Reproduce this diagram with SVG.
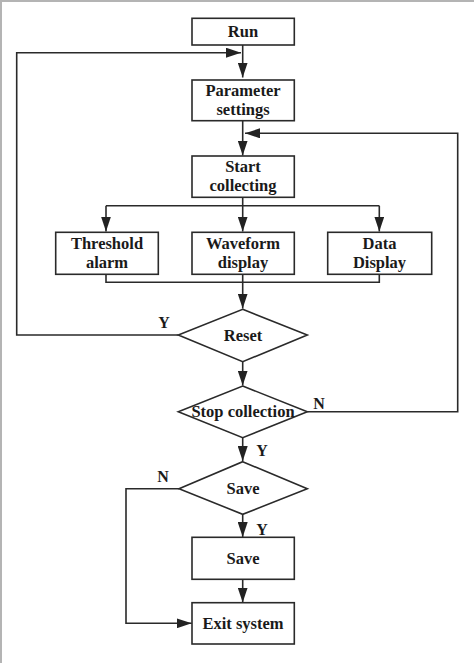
<svg xmlns="http://www.w3.org/2000/svg" width="474" height="663" viewBox="0 0 474 663">
<style>
.box{fill:#fff;stroke:#2a2a2a;stroke-width:1.6}
.ln{fill:none;stroke:#2a2a2a;stroke-width:1.6}
.t{font-family:"Liberation Serif","Times New Roman",serif;font-weight:bold;font-size:16.5px;fill:#1a1a1a;text-anchor:middle}
.lb{font-family:"Liberation Serif","Times New Roman",serif;font-weight:bold;font-size:16px;fill:#1a1a1a;text-anchor:middle}
</style>
<defs>
<marker id="ah" markerWidth="15" markerHeight="10" refX="15" refY="5" orient="auto" markerUnits="userSpaceOnUse">
<path d="M0,0 L15,5 L0,10 Z" fill="#222"/>
</marker>
</defs>
<rect x="0" y="0" width="474" height="663" fill="#fff"/>
<rect x="0" y="0" width="474" height="2" fill="#b4b4b4"/>
<rect x="0" y="0" width="2" height="663" fill="#b4b4b4"/>
<g id="connectors">
<path class="ln" d="M242.7,45 V77.5" marker-end="url(#ah)"/>
<path class="ln" d="M178.5,335 H16.7 V52.7 H241" marker-end="url(#ah)"/>
<path class="ln" d="M242.7,120.7 V155.5" marker-end="url(#ah)"/>
<path class="ln" d="M307.3,411.7 H457.7 V133.3 H245" marker-end="url(#ah)"/>
<path class="ln" d="M242.7,197.3 V231.5" marker-end="url(#ah)"/>
<path class="ln" d="M106,205.7 H379.3"/>
<path class="ln" d="M106,205.7 V231.5" marker-end="url(#ah)"/>
<path class="ln" d="M379.3,205.7 V231.5" marker-end="url(#ah)"/>
<path class="ln" d="M106,274.3 V282.3 H379.3 V274.3"/>
<path class="ln" d="M242.7,274.3 V308.5" marker-end="url(#ah)"/>
<path class="ln" d="M242.7,361.7 V385.5" marker-end="url(#ah)"/>
<path class="ln" d="M242.7,437.7 V461" marker-end="url(#ah)"/>
<path class="ln" d="M179,488.7 H126 V623.3 H191.7" marker-end="url(#ah)"/>
<path class="ln" d="M242.7,514.3 V537" marker-end="url(#ah)"/>
<path class="ln" d="M242.7,579.3 V602.5" marker-end="url(#ah)"/>
<text class="lb" x="164" y="328">Y</text>
<text class="lb" x="319" y="409">N</text>
<text class="lb" x="262" y="456">Y</text>
<text class="lb" x="163" y="482">N</text>
<text class="lb" x="262" y="535">Y</text>
</g>
<g id="run"><rect class="box" x="192" y="18.3" width="102.3" height="26.7"/><text class="t" x="243" y="37">Run</text></g>
<g id="param"><rect class="box" x="192" y="80" width="102.3" height="40.7"/><text class="t" x="243" y="96">Parameter</text><text class="t" x="243" y="114.5">settings</text></g>
<g id="start"><rect class="box" x="192" y="156" width="102.3" height="41.3"/><text class="t" x="243" y="172">Start</text><text class="t" x="243" y="190.5">collecting</text></g>
<g id="threshold"><rect class="box" x="55.7" y="232.3" width="102.6" height="42"/><text class="t" x="107" y="249">Threshold</text><text class="t" x="107" y="268">alarm</text></g>
<g id="waveform"><rect class="box" x="192" y="232.3" width="102.3" height="42"/><text class="t" x="243" y="249">Waveform</text><text class="t" x="243" y="268">display</text></g>
<g id="data"><rect class="box" x="327.7" y="232.3" width="104" height="42"/><text class="t" x="379.5" y="249">Data</text><text class="t" x="379.5" y="268">Display</text></g>
<g id="reset"><polygon class="box" points="242.7,309.3 307.3,335 242.7,361.7 178.3,335"/><text class="t" x="243" y="340.5">Reset</text></g>
<g id="stop"><polygon class="box" points="242.7,386 307.3,411.7 242.7,437.7 178.3,411.7"/><text class="t" x="243" y="417">Stop collection</text></g>
<g id="savedec"><polygon class="box" points="242.7,461.7 307.3,488.7 242.7,514.3 179,488.7"/><text class="t" x="243" y="494">Save</text></g>
<g id="save"><rect class="box" x="192" y="537.3" width="102.3" height="42"/><text class="t" x="243" y="563.5">Save</text></g>
<g id="exit"><rect class="box" x="192" y="602.7" width="102.3" height="41.3"/><text class="t" x="243" y="628.5">Exit system</text></g>
</svg>
